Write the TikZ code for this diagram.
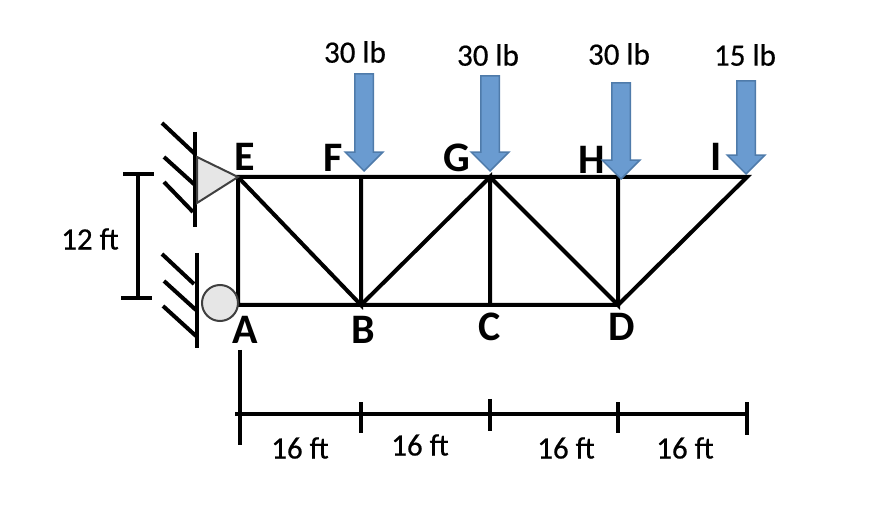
\documentclass[tikz,border=0pt]{standalone}
\usepackage{fontspec}
\setmainfont{Carlito}
\newfontfamily\heavyfont[FakeBold=0.5]{Carlito}
\usetikzlibrary{shapes.arrows}
\definecolor{loadblue}{HTML}{6A9BD0}
\definecolor{loadedge}{HTML}{4F7BAA}
\definecolor{supportgray}{HTML}{E6E6E6}
\tikzset{
  member/.style={line width=4pt},
  hatch/.style={line width=4pt},
  dimline/.style={line width=3.5pt},
  support/.style={draw=black!75,line width=2pt,fill=supportgray},
  joint/.style={font=\fontsize{42}{44}\selectfont\bfseries,inner sep=0pt},
  dimlabel/.style={font=\fontsize{31}{33}\heavyfont,inner sep=0pt},
  loadarrow/.style={single arrow,rotate=-90,anchor=tip,fill=loadblue,draw=loadedge,line width=1.5pt,
    inner sep=0pt,inner ysep=8.5pt,minimum width=0pt,single arrow head extend=9.5pt,single arrow head indent=0pt},
}
\begin{document}
\begin{tikzpicture}[x=1pt,y=-1pt]
            \useasboundingbox (0,0) rectangle (870,526);

            \coordinate (E) at (238,177);
            \coordinate (F) at (361,177);
            \coordinate (G) at (490,177);
            \coordinate (H) at (618,177);
            \coordinate (I) at (747,177);
            \coordinate (A) at (238,305);
            \coordinate (B) at (361,305);
            \coordinate (C) at (490,305);
            \coordinate (D) at (618,305);

            \draw[member,line cap=round] (E) -- (I) -- (D) -- (A) -- cycle;
            \draw[member] (E) -- (B) -- (F);
            \draw[member] (B) -- (G) -- (C);
            \draw[member] (G) -- (D) -- (H);

            \node[joint] (labE) at (245,157) {E};
            \node[joint] (labF) at (333,158) {F};
            \node[joint] (labG) at (457,158) {G};
            \node[joint] (labH) at (592,160) {H};
            \node[joint] (labI) at (716,157) {I};
            \node[joint] (labA) at (245,330) {A};
            \node[joint] (labB) at (363,330) {B};
            \node[joint] (labC) at (490,327) {C};
            \node[joint] (labD) at (622,327) {D};

            \node[loadarrow,minimum height=97pt] (loadF) at (364,172) {};
            \node[loadarrow,minimum height=95pt] (loadG) at (490,172) {};
            \node[loadarrow,minimum height=96pt] (loadH) at (621,180) {};
            \node[loadarrow,minimum height=93pt] (loadI) at (746,175) {};

            \node[dimlabel] (forceF) at (355,52) {30 lb};
            \node[dimlabel] (forceG) at (488,55) {30 lb};
            \node[dimlabel] (forceH) at (619,54) {30 lb};
            \node[dimlabel] (forceI) at (745,55) {15 lb};

            % upper wall
            \coordinate (wallTa) at (195,132);
            \coordinate (wallTb) at (195,227);
            \draw[hatch] (wallTa) -- (wallTb);
            \draw[hatch] (162,123) -- (195,154);
            \draw[hatch] (164,157) -- (195,185);
            \draw[hatch] (164,182) -- (193,212);
            \coordinate (pinL) at (197,157);
            \coordinate (pinR) at (197,203);
            \draw[support] (pinL) -- (E) -- (pinR) -- cycle;

            % lower wall
            \coordinate (wallBa) at (197,253);
            \coordinate (wallBb) at (197,348);
            \draw[hatch] (wallBa) -- (wallBb);
            \draw[hatch] (162,254) -- (194,284);
            \draw[hatch] (164,281) -- (196,310);
            \draw[hatch] (163,306) -- (196,336);
            \node[circle,support,minimum size=36pt,inner sep=0pt] (roller) at (220,303) {};

            % height
            \coordinate (htTop) at (138,174);
            \coordinate (htBot) at (138,298);
            \draw[dimline] (htTop) -- (htBot);
            \draw[dimline] (123,174) -- (154,174);
            \draw[dimline] (121,298) -- (152,298);
            \node[dimlabel] (height) at (90,239) {12 ft};

            % spans
            \coordinate (spanA) at (235,414);
            \coordinate (spanB) at (749,414);
            \draw[dimline] (spanA) -- (spanB);
            \draw[dimline] (240,350) -- (240,445);
            \draw[dimline] (361,402) -- (361,433);
            \draw[dimline] (490,399) -- (490,431);
            \draw[dimline] (618,402) -- (618,433);
            \draw[dimline] (747,402) -- (747,435);
            \node[dimlabel] (spanAB) at (300,448) {16 ft};
            \node[dimlabel] (spanBC) at (420,445) {16 ft};
            \node[dimlabel] (spanCD) at (566,448) {16 ft};
            \node[dimlabel] (spanDI) at (685,448) {16 ft};
          \end{tikzpicture}
\end{document}
